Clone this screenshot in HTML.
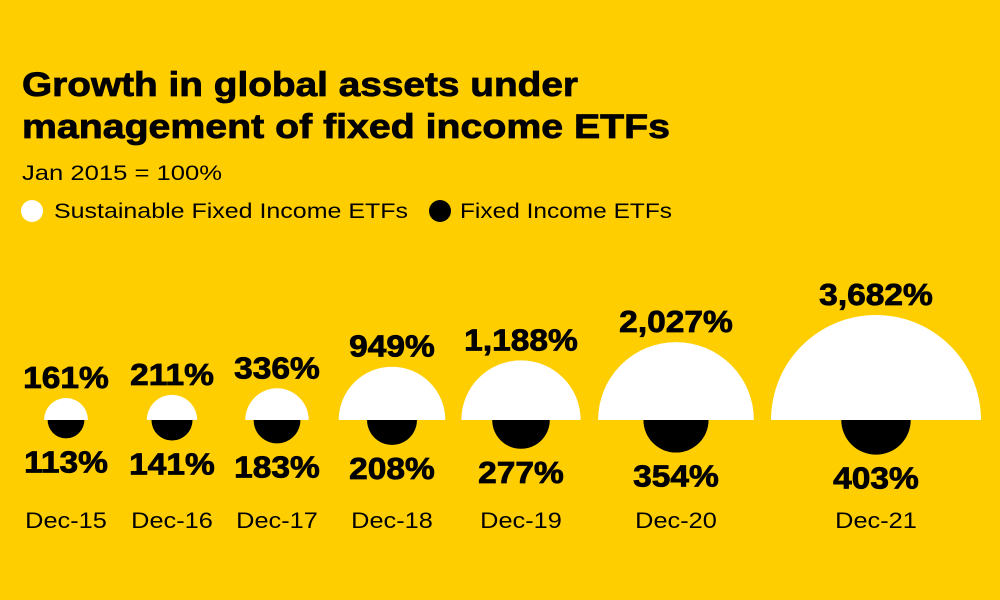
<!DOCTYPE html>
<html><head><meta charset="utf-8"><style>
html,body{margin:0;padding:0;background:#FFCE00;}
svg{display:block;font-family:"Liberation Sans",sans-serif;}
</style></head><body>
<svg id="chart" width="1000" height="600" viewBox="0 0 1000 600">
<rect width="1000" height="600" fill="#FFCE00"/>
<text x="22" y="96" font-size="34" font-weight="bold" fill="#000" stroke="#000" stroke-width="0.8" textLength="556" lengthAdjust="spacingAndGlyphs">Growth in global assets under</text>
<text x="22" y="138" font-size="34" font-weight="bold" fill="#000" stroke="#000" stroke-width="0.8" textLength="648" lengthAdjust="spacingAndGlyphs">management of fixed income ETFs</text>
<text x="22" y="180" font-size="21" fill="#000" textLength="200" lengthAdjust="spacingAndGlyphs">Jan 2015 = 100%</text>
<g>
<ellipse cx="32" cy="211" rx="11" ry="11" fill="#fff"/>
<text x="54" y="218" font-size="21" fill="#000" textLength="354" lengthAdjust="spacingAndGlyphs">Sustainable Fixed Income ETFs</text>
</g>
<g>
<ellipse cx="440" cy="211" rx="11" ry="11" fill="#000"/>
<text x="460" y="218" font-size="21" fill="#000" textLength="212" lengthAdjust="spacingAndGlyphs">Fixed Income ETFs</text>
</g>
<g id="marks"></g>
</svg>
<script>
const categories = ["Dec-15","Dec-16","Dec-17","Dec-18","Dec-19","Dec-20","Dec-21"];
const sustainable = [161, 211, 336, 949, 1188, 2027, 3682];
const fixedIncome = [113, 141, 183, 208, 277, 354, 403];
const centersX = [66, 172, 277, 392, 521, 676, 876];
const baseY = 420;
const k = 1.73;
function rScale(v){ return k*Math.sqrt(v); }
function fmt(v){ return v.toLocaleString('en-US') + '%'; }
const NS = "http://www.w3.org/2000/svg";
const g = document.getElementById('marks');
function mk(tag, attrs){ const e=document.createElementNS(NS,tag); for(const a in attrs) e.setAttribute(a,attrs[a]); g.appendChild(e); return e; }
function widen(t, f){ const w=t.getComputedTextLength(); t.setAttribute('textLength', (w*f).toFixed(1)); t.setAttribute('lengthAdjust','spacingAndGlyphs'); }
categories.forEach((c,i)=>{
  const cx = centersX[i];
  const rw = rScale(sustainable[i]);
  const rb = rScale(fixedIncome[i]);
  const top = mk('path',{d:`M${cx-rw},${baseY} A${rw},${rw} 0 0 1 ${cx+rw},${baseY} Z`, fill:'#fff'});
  
  
  const bot = mk('path',{d:`M${cx-rb},${baseY} A${rb},${rb} 0 0 0 ${cx+rb},${baseY} Z`, fill:'#000'});
  
  
  const t1 = mk('text',{x:cx, y:baseY-rw-10, 'text-anchor':'middle', 'font-size':31, 'font-weight':'bold', fill:'#000', stroke:'#000', 'stroke-width':0.8});
  t1.textContent = fmt(sustainable[i]);
  
  
  widen(t1, 1.08);
  const t2 = mk('text',{x:cx, y:baseY+rb+34, 'text-anchor':'middle', 'font-size':31, 'font-weight':'bold', fill:'#000', stroke:'#000', 'stroke-width':0.8});
  t2.textContent = fmt(fixedIncome[i]);
  
  
  widen(t2, 1.08);
  const t3 = mk('text',{x:cx, y:528, 'text-anchor':'middle', 'font-size':22, fill:'#000'});
  t3.textContent = c;
  
  
  widen(t3, 1.15);
});
</script>
</body></html>
